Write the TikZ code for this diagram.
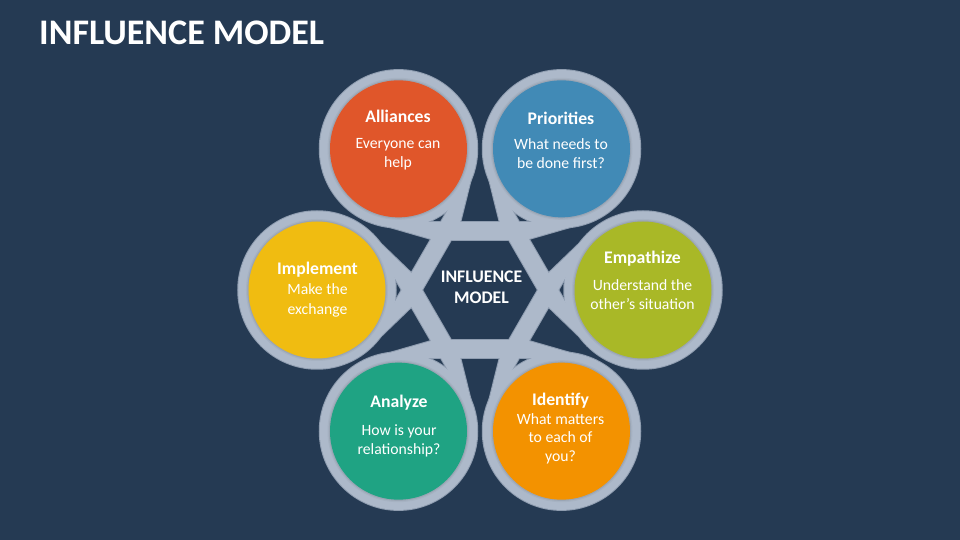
\documentclass[tikz,border=0pt]{standalone}
\usepackage{fontspec}
\setmainfont{Carlito}
\usetikzlibrary{calc}
\definecolor{bg}{HTML}{253A53}
\definecolor{ringc}{HTML}{ADB9CA}
\definecolor{calli}{HTML}{E0562A}
\definecolor{cprio}{HTML}{418AB6}
\definecolor{cempa}{HTML}{A9B827}
\definecolor{ciden}{HTML}{F39200}
\definecolor{canal}{HTML}{1FA383}
\definecolor{cimpl}{HTML}{F0BC11}
\colorlet{edgec}{ringc!78!bg}
\colorlet{shadeA}{ringc!96!black}
\colorlet{shadeB}{ringc!89!black}
\tikzset{
  ringdisc/.style={circle, fill=ringc, minimum size=157.5pt, inner sep=0pt, outer sep=0pt},
  ringedge/.style={circle, fill=edgec, minimum size=159.5pt, inner sep=0pt, outer sep=0pt},
  shadedisc/.style={circle, fill=shadeA, minimum size=142pt, inner sep=0pt, outer sep=0pt},
  shadediscb/.style={circle, fill=shadeB, minimum size=139.4pt, inner sep=0pt, outer sep=0pt},
  innerdisc/.style={circle, minimum size=137pt, inner sep=0pt, outer sep=0pt},
  ttl/.style={text=white, font=\fontsize{17.7}{20}\selectfont\bfseries, anchor=base, inner sep=0pt},
  txt/.style={text=white, font=\fontsize{15.7}{19}\selectfont, anchor=base, inner sep=0pt},
}
\begin{document}
\begin{tikzpicture}[x=1pt,y=1pt]
\useasboundingbox (-480,-250) rectangle (480,290);
\fill[bg] (-480,-250) rectangle (480,290);
% band corner points (tapered tails of the hexagram)
\foreach \p/\n in {90/1,30/2,-30/3,-90/4,-150/5,150/6}{
  \coordinate (b\n a) at ($(\p:50.2)+(\p+90:46)$);
  \coordinate (b\n b) at ($(\p:67.8)+(\p+90:107)$);
  \coordinate (b\n c) at ($(\p:67.8)+(\p-90:107)$);
  \coordinate (b\n d) at ($(\p:50.2)+(\p-90:46)$);
}
% thin outline of the grey shape
\foreach \a/\n in {120/A,60/B,0/C,-60/D,-120/E,180/F}{
  \node[ringedge] (edge\n) at (\a:163) {};
}
\foreach \n in {1,...,6}{
  \draw[edgec, line width=2pt, line join=round] (b\n a) -- (b\n b) -- (b\n c) -- (b\n d) -- cycle;
}
% grey rings and bands
\foreach \a/\n in {120/A,60/B,0/C,-60/D,-120/E,180/F}{
  \node[ringdisc] (ring\n) at (\a:163) {};
}
\foreach \n in {1,...,6}{
  \fill[ringc] (b\n a) -- (b\n b) -- (b\n c) -- (b\n d) -- cycle;
}
% shadows and coloured discs
\foreach \a/\n/\c in {120/A/calli,60/B/cprio,0/C/cempa,-60/D/ciden,-120/E/canal,180/F/cimpl}{
  \node[shadedisc] (sh\n) at (\a:163) {};
  \node[shadediscb] (shb\n) at (\a:163) {};
  \node[innerdisc, fill=\c] (disc\n) at (\a:163) {};
}
% title
\node[text=white, font=\fontsize{36}{40}\selectfont\bfseries, anchor=base west, inner sep=0pt] (title) at (-441,245) {INFLUENCE MODEL};
% centre
\node[ttl] (cen1) at (1.5,7.3) {INFLUENCE};
\node[ttl] (cen2) at (1.5,-14) {MODEL};
% Alliances
\node[ttl] (tA) at (-82,167.2) {Alliances};
\node[txt] (tA1) at (-82,141) {Everyone can};
\node[txt] (tA2) at (-82,122.3) {help};
% Priorities
\node[ttl] (tB) at (81,165.2) {Priorities};
\node[txt] (tB1) at (81,140) {What needs to};
\node[txt] (tB2) at (81,121) {be done first?};
% Empathize
\node[ttl] (tC) at (162.5,26.2) {Empathize};
\node[txt] (tC1) at (162.5,-1) {Understand the};
\node[txt] (tC2) at (162.5,-20) {other’s situation};
% Identify
\node[ttl] (tD) at (80.5,-115.5) {Identify};
\node[txt] (tD1) at (80.5,-134) {What matters};
\node[txt] (tD2) at (80.5,-152.7) {to each of};
\node[txt] (tD3) at (80.5,-171.7) {you?};
% Analyze
\node[ttl] (tE) at (-81,-117.8) {Analyze};
\node[txt] (tE1) at (-81,-145.7) {How is your};
\node[txt] (tE2) at (-81,-164.3) {relationship?};
% Implement
\node[ttl] (tF) at (-162.5,15.2) {Implement};
\node[txt] (tF1) at (-162.5,-5) {Make the};
\node[txt] (tF2) at (-162.5,-24.3) {exchange};
\end{tikzpicture}
\end{document}
